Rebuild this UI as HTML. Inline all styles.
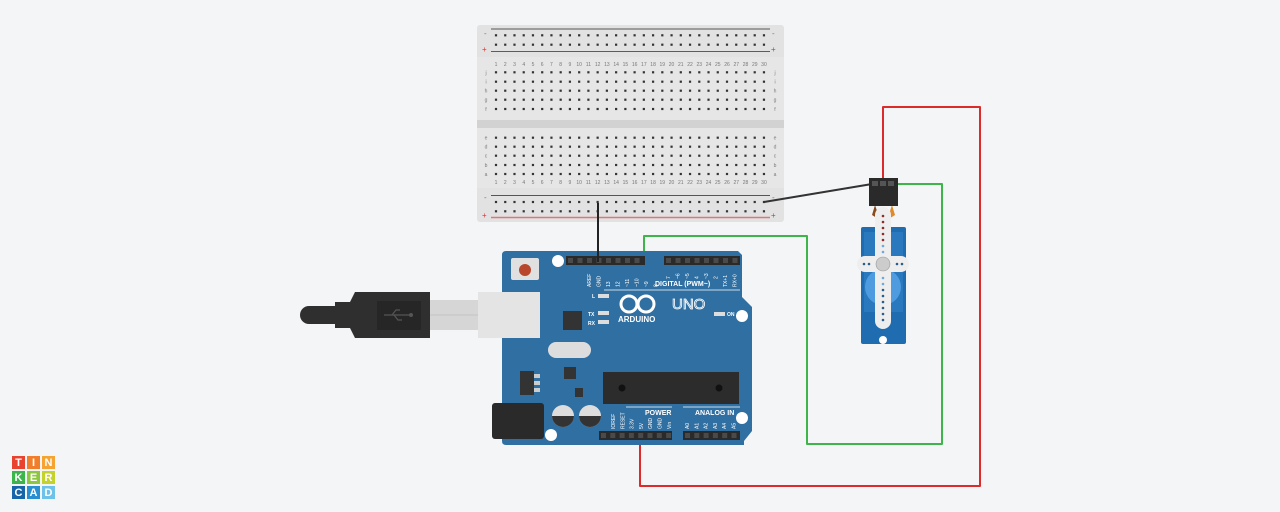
<!DOCTYPE html>
<html><head><meta charset="utf-8"><style>
html,body{margin:0;padding:0;background:#f3f5f7;}
svg{display:block;font-family:"Liberation Sans",sans-serif;}
</style></head><body>
<svg id="s" width="1280" height="512" viewBox="0 0 1280 512" xmlns="http://www.w3.org/2000/svg">
<rect width="1280" height="512" fill="#f3f5f7"/>
<rect x="477" y="25" width="307" height="197" rx="3" fill="#e2e2e2"/>
<rect x="477" y="57" width="307" height="63" fill="#e6e6e6"/>
<rect x="477" y="120" width="307" height="8" fill="#d2d2d2"/>
<rect x="477" y="128" width="307" height="60" fill="#e6e6e6"/>
<line x1="491" y1="29" x2="770" y2="29" stroke="#555" stroke-width="1"/>
<line x1="491" y1="51.5" x2="770" y2="51.5" stroke="#b33" stroke-width="1"/>
<line x1="491" y1="195.5" x2="770" y2="195.5" stroke="#555" stroke-width="1"/>
<line x1="491" y1="217.5" x2="770" y2="217.5" stroke="#d77" stroke-width="1.5"/>
<g font-size="8" fill="#777"><text x="484" y="36">-</text><text x="772" y="36">-</text><text x="482" y="52" fill="#d33">+</text><text x="771" y="52" fill="#d33">+</text>
<text x="484" y="200">-</text><text x="772" y="200">-</text><text x="482" y="218" fill="#d33">+</text><text x="771" y="218" fill="#d33">+</text></g>
<g id="holes" fill="#333"></g>
<g id="lbl" font-size="5" fill="#777"></g>
<polyline points="644,262 644,236 807,236 807,444 942,444 942,184 897,184" fill="none" stroke="#3db54a" stroke-width="2" stroke-linejoin="round"/>
<polyline points="640,440 640,486 980,486 980,107 883,107 883,180" fill="none" stroke="#dd2a2a" stroke-width="2" stroke-linejoin="round"/>
<rect x="430" y="300" width="50" height="30" fill="#d6d6d6"/>
<line x1="430" y1="315" x2="478" y2="315" stroke="#c4c4c4"/>
<path d="M300,315 a9,9 0 0 1 9,-9 h26 v-4 h15 l5,-10 h75 v46 h-75 l-5,-10 h-15 v-4 h-26 a9,9 0 0 1 -9,-9z" fill="#2f2f2f"/>
<rect x="377" y="301" width="44" height="29" fill="#262626"/>
<g stroke="#555" stroke-width="1.2" fill="none"><line x1="384" y1="315" x2="410" y2="315"/><polyline points="392,315 396,310 400,310"/><polyline points="394,315 398,320 402,320"/></g>
<circle cx="411" cy="315" r="2" fill="#555"/>
<path d="M502,255 q0,-4 4,-4 h232 l4,4 v42 l10,10 v124 l-8,10 v4 h-238 q-4,0 -4,-4z" fill="#2f6fa2"/>
<rect x="478" y="292" width="62" height="46" fill="#e4e4e4"/>
<rect x="511" y="258" width="28" height="22" rx="2" fill="#e0e0e0"/><circle cx="525" cy="270" r="6" fill="#b8462c"/>
<circle cx="558" cy="261" r="6" fill="#fff"/><circle cx="742" cy="316" r="6" fill="#fff"/><circle cx="742" cy="418" r="6" fill="#fff"/><circle cx="551" cy="435" r="6" fill="#fff"/>
<rect x="566" y="256" width="79" height="9" fill="#2a2a2a"/><rect x="664" y="256" width="76" height="9" fill="#2a2a2a"/>
<rect x="599" y="431" width="73" height="9" fill="#2a2a2a"/><rect x="683" y="431" width="57" height="9" fill="#2a2a2a"/>
<g id="pins" fill="#4a4a4a"></g>
<g id="plbl" font-size="5" fill="#fff"></g>
<line x1="604" y1="290" x2="740" y2="290" stroke="#fff" stroke-width="0.7"/>
<line x1="626" y1="407" x2="672" y2="407" stroke="#fff" stroke-width="0.7"/>
<line x1="683" y1="407" x2="740" y2="407" stroke="#fff" stroke-width="0.7"/>
<rect x="563" y="311" width="19" height="19" fill="#333"/>
<rect x="548" y="342" width="43" height="16" rx="8" fill="#ddd"/>
<rect x="603" y="372" width="136" height="32" fill="#2c2c2c"/>
<circle cx="622" cy="388" r="3.5" fill="#111"/><circle cx="719" cy="388" r="3.5" fill="#111"/>
<rect x="564" y="367" width="12" height="12" fill="#333"/>
<rect x="575" y="388" width="8" height="9" fill="#333"/>
<rect x="520" y="371" width="14" height="24" fill="#333"/><rect x="534" y="374" width="6" height="4" fill="#ccc"/><rect x="534" y="381" width="6" height="4" fill="#ccc"/><rect x="534" y="388" width="6" height="4" fill="#ccc"/>
<rect x="492" y="403" width="52" height="36" rx="3" fill="#2a2a2a"/>
<circle cx="563" cy="416" r="11" fill="#ddd"/><path d="M552,416 a11,11 0 0 0 22,0z" fill="#333"/>
<circle cx="590" cy="416" r="11" fill="#ddd"/><path d="M579,416 a11,11 0 0 0 22,0z" fill="#333"/>
<g fill="#fff" font-weight="bold">
<text x="655" y="286" font-size="7">DIGITAL (PWM~)</text>
<text x="618" y="322" font-size="8">ARDUINO</text>
<text x="672" y="309" font-size="15" font-weight="normal" fill="none" stroke="#fff" stroke-width="0.8">UNO</text>
<text x="645" y="415" font-size="7">POWER</text><text x="695" y="415" font-size="7">ANALOG IN</text>
<text x="727" y="316" font-size="5">ON</text><text x="588" y="316" font-size="5">TX</text><text x="588" y="325" font-size="5">RX</text><text x="592" y="298" font-size="5">L</text>
</g>
<g fill="none" stroke="#fff" stroke-width="3"><circle cx="629" cy="304" r="8"/><circle cx="646" cy="304" r="8"/></g>
<g fill="#ddd"><rect x="598" y="294" width="11" height="4"/><rect x="598" y="311" width="11" height="4"/><rect x="598" y="320" width="11" height="4"/><rect x="714" y="312" width="11" height="4"/></g>
<line x1="598" y1="203" x2="598" y2="262" stroke="#222" stroke-width="2"/>
<line x1="764" y1="202" x2="872" y2="184" stroke="#333" stroke-width="2"/>
<path d="M875,205 l-3,10 l8,5 z" fill="#8a4a1c"/><path d="M892,205 l3,10 l-8,5 z" fill="#e08a2a"/>
<rect x="869" y="178" width="29" height="28" fill="#2a2a2a"/>
<g fill="#555"><rect x="872" y="181" width="6" height="5"/><rect x="880" y="181" width="6" height="5"/><rect x="888" y="181" width="6" height="5"/></g>
<rect x="861" y="227" width="45" height="117" rx="2" fill="#1f6db0"/>
<rect x="864" y="232" width="39" height="80" fill="#2a79bf"/>
<circle cx="883" cy="287" r="18" fill="#4f9be0"/>
<rect x="875" y="207" width="16" height="122" rx="8" fill="#eee"/>
<rect x="857" y="256" width="52" height="16" rx="8" fill="#eee"/>
<g id="sd"></g>
<circle cx="883" cy="264" r="7" fill="#ccc" stroke="#999" stroke-width="0.6"/><circle cx="883" cy="340" r="4" fill="#fff"/>
<g font-size="11" font-weight="bold" fill="#fff" text-anchor="middle">
<rect x="12" y="456" width="13" height="13" fill="#e8432e"/><rect x="27" y="456" width="13" height="13" fill="#f07e2a"/><rect x="42" y="456" width="13" height="13" fill="#f5a331"/>
<rect x="12" y="471" width="13" height="13" fill="#3cb54a"/><rect x="27" y="471" width="13" height="13" fill="#8dc63f"/><rect x="42" y="471" width="13" height="13" fill="#c4d32c"/>
<rect x="12" y="486" width="13" height="13" fill="#1565a8"/><rect x="27" y="486" width="13" height="13" fill="#2a8fd0"/><rect x="42" y="486" width="13" height="13" fill="#6ec1e8"/>
<text x="18.5" y="466">T</text><text x="33.5" y="466">I</text><text x="48.5" y="466">N</text>
<text x="18.5" y="481">K</text><text x="33.5" y="481">E</text><text x="48.5" y="481">R</text>
<text x="18.5" y="496">C</text><text x="33.5" y="496">A</text><text x="48.5" y="496">D</text></g>
</svg>
<script>
var ns="http://www.w3.org/2000/svg",h=document.getElementById("holes"),l=document.getElementById("lbl");
function mk(p,tag,a,txt){var e=document.createElementNS(ns,tag);for(var k in a)e.setAttribute(k,a[k]);if(txt!=null)e.textContent=txt;p.appendChild(e);return e;}
var ys=[35.3,44.7,72.3,81.7,90.7,99.7,109,137.7,146.7,155.7,165,174,202,211.3];
for(var c=0;c<30;c++){var x=496+c*9.24;
 ys.forEach(function(y){mk(h,"rect",{x:x-1.1,y:y-1.1,width:2.2,height:2.2});});
 [66,184].forEach(function(y){mk(l,"text",{x:x,y:y,"text-anchor":"middle"},c+1);});}
var lt=["j","i","h","g","f","e","d","c","b","a"];
lt.forEach(function(t,i){var y=ys[2+i]+2;mk(l,"text",{x:486,y:y,"text-anchor":"middle"},t);mk(l,"text",{x:775,y:y,"text-anchor":"middle"},t);});
var p=document.getElementById("pins");
[[566,8],[664,8]].forEach(function(r){for(var i=0;i<r[1];i++)mk(p,"rect",{x:r[0]+2+i*9.5,y:258,width:5,height:5});});
[[599,8],[683,6]].forEach(function(r){for(var i=0;i<r[1];i++)mk(p,"rect",{x:r[0]+2+i*9.3,y:433,width:5,height:5});});
var pl=document.getElementById("plbl");
["AREF","GND","13","12","~11","~10","~9","8"].forEach(function(t,i){var x=591+i*9.5;mk(pl,"text",{x:x,y:287,transform:"rotate(-90 "+x+" 287)"},t);});
["7","~6","~5","4","~3","2","TX+1","RX+0"].forEach(function(t,i){var x=670+i*9.5;var y=(i<6)?279:287;mk(pl,"text",{x:x,y:y,transform:"rotate(-90 "+x+" "+y+")"},t);});
["IOREF","RESET","3.3V","5V","GND","GND","Vin"].forEach(function(t,i){var x=615+i*9.3;mk(pl,"text",{x:x,y:429,transform:"rotate(-90 "+x+" 429)"},t);});
["A0","A1","A2","A3","A4","A5"].forEach(function(t,i){var x=689+i*9.3;mk(pl,"text",{x:x,y:429,transform:"rotate(-90 "+x+" 429)"},t);});
var sd=document.getElementById("sd");
for(var i=0;i<7;i++)mk(sd,"circle",{cx:883,cy:216+i*6,r:1.3,fill:i<5?"#8b2d2d":"#6fa8dc"});
for(var i=0;i<8;i++)mk(sd,"circle",{cx:883,cy:278+i*6,r:1.3,fill:i<2?"#6fa8dc":"#2a5d8a"});
[864,869,897,902].forEach(function(x){mk(sd,"circle",{cx:x,cy:264,r:1.3,fill:"#2a5d8a"});});
</script>
</body></html>
